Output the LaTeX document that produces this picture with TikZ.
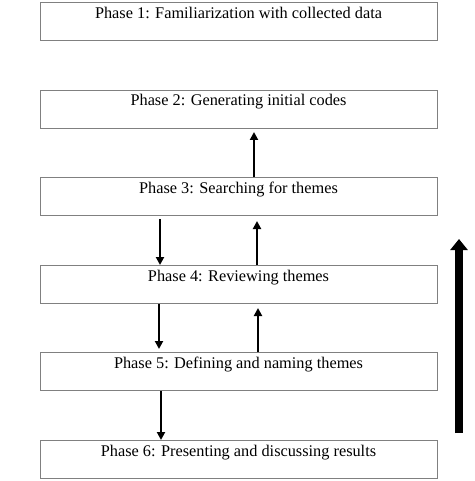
\documentclass[tikz,border=0pt]{standalone}
\usepackage{fontspec}
\setmainfont{Liberation Serif}
\usetikzlibrary{arrows.meta}
\begin{document}
\begin{tikzpicture}[x=1pt,y=1pt,
  phasebox/.style={draw=black!50, line width=1pt, fill=white, minimum width=397pt,
    inner xsep=0pt, inner ysep=0pt, text height=15.5pt, text depth=22.5pt,
    font=\fontsize{16.3pt}{18pt}\selectfont, anchor=north},
  arr/.style={line width=2pt, -{Triangle[length=8pt,width=8pt]}},
  bigarr/.style={line width=8pt, -{Triangle[length=11pt,width=17pt]}}]
\useasboundingbox (0,0) rectangle (474,-481);
\node[phasebox] (p1) at (238.5,-2.5) {Phase 1: Familiarization with collected data};
\node[phasebox] (p2) at (238.5,-90) {Phase 2: Generating initial codes};
\node[phasebox] (p3) at (238.5,-177) {Phase 3: Searching for themes};
\node[phasebox] (p4) at (238.5,-265) {Phase 4: Reviewing themes};
\node[phasebox] (p5) at (238.5,-352) {Phase 5: Defining and naming themes};
\node[phasebox] (p6) at (238.5,-440) {Phase 6: Presenting and discussing results};
% up arrows
\draw[arr, shorten >=3pt] ([xshift=15.5pt]p3.north) -- ([xshift=15.5pt]p2.south);
\draw[arr, shorten >=5pt] ([xshift=18.5pt]p4.north) -- ([xshift=18.5pt]p3.south);
\draw[arr, shorten >=4pt] ([xshift=19.5pt]p5.north) -- ([xshift=19.5pt]p4.south);
% down arrows
\draw[arr, shorten <=3pt] ([xshift=-78.5pt]p3.south) -- ([xshift=-78.5pt]p4.north);
\draw[arr, shorten >=3pt] ([xshift=-79.5pt]p4.south) -- ([xshift=-79.5pt]p5.north);
\draw[arr] ([xshift=-77.5pt]p5.south) -- ([xshift=-77.5pt]p6.north);
% big arrow
\coordinate (bigS) at (459,-433);
\coordinate (bigE) at (459,-239);
\draw[bigarr] (bigS) -- (bigE);
\end{tikzpicture}
\end{document}
